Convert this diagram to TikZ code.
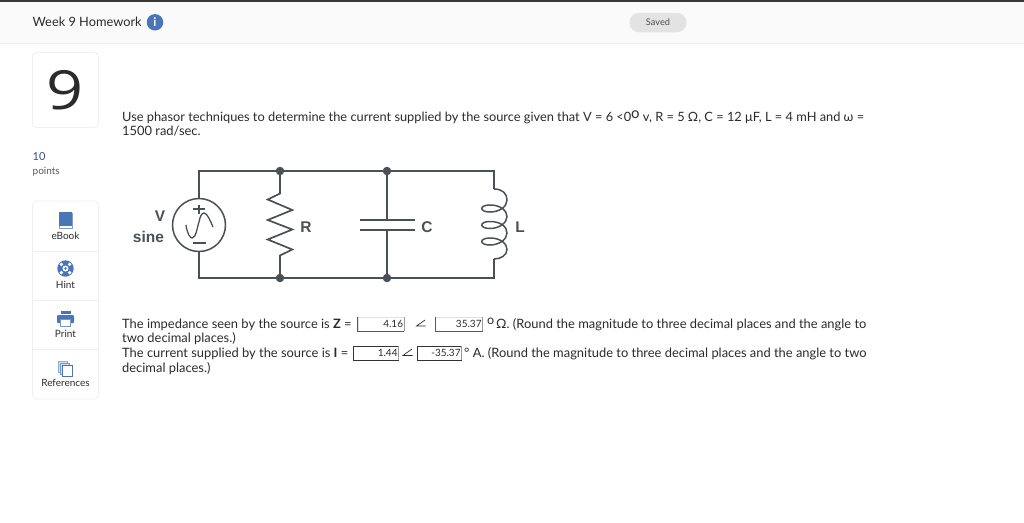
\documentclass[tikz,border=0pt]{standalone}
\usepackage{fontspec}
\setmainfont{Lato}
\newfontfamily\numfont{Open Sans}
\newfontfamily\labfont{Liberation Sans}
\definecolor{ink}{HTML}{2B2B2B}
\definecolor{wire}{HTML}{4A5054}
\definecolor{brand}{HTML}{4A76B8}
\definecolor{edge}{HTML}{EFEFEF}
\tikzset{
  txt/.style={anchor=base west,inner sep=0pt,text=ink,font=\fontsize{12.9}{14}\selectfont},
  side/.style={anchor=base,inner sep=0pt,text=ink,font=\fontsize{10}{11}\selectfont},
  wirepath/.style={draw=wire,line width=1.7pt},
  thin wire/.style={draw=wire,line width=1.2pt},
  junction/.style={circle,fill=wire,inner sep=0pt,minimum size=8.5pt},
  port/.style={inner sep=0pt,minimum size=0pt},
  lab/.style={inner sep=0pt,text=wire,font=\labfont\fontsize{15.5}{17}\selectfont\bfseries},
  ansbox/.style={draw=black!80,line width=.6pt,inner sep=0pt,anchor=north west,font=\fontsize{10}{11}\selectfont,text=ink},
  faintbox/.style={ansbox,draw=black!12},
  boxedge/.style={draw=black!65,line width=.7pt},
  boxright/.style={draw=black!40,line width=.7pt},
  ang/.style={draw=ink,line width=.7pt},
  panel/.style={draw=edge,line width=.8pt,rounded corners=4pt},
}
\begin{document}
\begin{tikzpicture}[x=1pt,y=-1pt]
\useasboundingbox (0,0) rectangle (1024,522);
\fill[white] (0,0) rectangle (1024,522);
% header
\fill[black!2] (0,0) rectangle (1024,43);
\draw[edge,line width=.6pt] (0,43) -- (1024,43);
\fill[black!78] (0,0) rectangle (1024,2.4);
\node[txt,font=\fontsize{12.8}{14}\selectfont] (title) at (32.5,26.5) {Week 9 Homework};
\node[circle,fill=brand,minimum size=16.5pt,inner sep=0pt,text=white,font=\fontsize{12}{12}\selectfont\bfseries] (info) at (155,22.3) {i};
\node[fill=black!11,rounded corners=9.5pt,minimum width=57pt,minimum height=19.5pt,inner sep=0pt,text=black!70,font=\fontsize{9.2}{10}\selectfont] (saved) at (658,22.5) {Saved};
% number card
\draw[panel] (32.5,52.5) rectangle (98.5,127.5);
\node[inner sep=0pt,text=ink,font=\numfont\fontsize{54}{55}\selectfont] (num) at (65.5,90) {\scalebox{1.2}[1]{9}};
\node[txt,text=brand!70!black,font=\fontsize{11}{13}\selectfont] (pts) at (32.5,160.5) {10};
\node[txt,text=black!65,font=\fontsize{10}{11}\selectfont] (ptsl) at (32.5,174.5) {points};
% side panel
\draw[panel] (32.5,201) rectangle (98.5,399);
\draw[edge,line width=.6pt] (33,251) -- (98,251);
\draw[edge,line width=.8pt] (33,300) -- (98,300);
\draw[edge,line width=.8pt] (33,349.5) -- (98,349.5);
\node[side] (ebook) at (65.5,239) {eBook};
\node[side] (hint) at (65.5,288) {Hint};
\node[side] (print) at (65.5,337) {Print};
\node[side] (refs) at (65.5,386.5) {References};
% book icon
\fill[brand] (58.5,212) rectangle (72,225.5);
\draw[brand!70,line width=.8pt] (59,225.5) -- (59,228) -- (72.5,228) -- (72.5,213);
% hint icon
\fill[brand] (65.5,268.5) circle (8.2);
\fill[white] (65.5,268.5) circle (3);
\foreach \a in {45,135,225,315}{\fill[white] (65.5,268.5)++(\a:5.8) circle (1.9);}
\fill[brand] (65.5,268.5) circle (1.4);
% print icon
\fill[brand] (60.5,311) rectangle (70.5,314);
\fill[brand,rounded corners=1pt] (57,315) rectangle (74,323);
\fill[white] (60.5,319.5) rectangle (70.5,326);
\draw[brand!75,line width=.7pt] (60.5,319.5) rectangle (70.5,326.5);
% refs icon
\draw[brand!60,fill=brand!25,line width=.7pt] (58.5,361) rectangle (67,372);
\draw[brand!75,fill=brand!25,line width=.7pt] (60.5,363) rectangle (69,374);
\draw[brand,fill=white,line width=.8pt] (62.5,365) rectangle (72.5,376.5);
% statement
\node[txt,font=\fontsize{12.8}{14}\selectfont] (q1) at (122,121) {Use phasor techniques to determine the current supplied by the source given that V = 6 <0\raisebox{.45ex}{\fontsize{15}{15}\selectfont o} v, R = 5 Ω, C = 12 μF, L = 4 mH and ω =};
\node[txt] (q2) at (122,135) {1500 rad/sec.};
% circuit
\node[circle,draw=wire,line width=1.5pt,minimum size=53pt,inner sep=0pt] (src) at (199,225) {};
\node[port] (tl) at (199,171) {};
\node[port] (bl) at (199,278) {};
\node[junction] (j1) at (280,171) {};
\node[junction] (j2) at (387,171) {};
\node[port] (tr) at (494,171) {};
\node[junction] (j3) at (280,278) {};
\node[junction] (j4) at (387,278) {};
\node[port] (br) at (494,278) {};
\node[port] (r1) at (280,192) {};
\node[port] (r2) at (280,257) {};
\node[port] (c1) at (387,220) {};
\node[port] (c2) at (387,230) {};
\node[port] (l1) at (494,189) {};
\node[port] (l2) at (494,259) {};
\draw[wirepath] (src.north) -- (tl.center) -- (j1) -- (j2) -- (tr.center) -- (l1.center);
\draw[wirepath] (src.south) -- (bl.center) -- (j3) -- (j4) -- (br.center) -- (l2.center);
\draw[wirepath] (j1) -- (r1.center);
\draw[wirepath] (j3) -- (r2.center);
\draw[wirepath] (j2) -- (c1.center);
\draw[wirepath] (j4) -- (c2.center);
\draw[wirepath,line join=miter] (r1.center) -- (280,193.5) -- (267.7,199.5) -- (292.3,210) -- (267.7,220) -- (292.3,229.5) -- (267.7,239.5) -- (292.3,249.5) -- (280,255.5) -- (r2.center);
\draw[wirepath] (360,220) -- (415,220);
\draw[wirepath] (360,230) -- (415,230);
\draw[wirepath,line width=1.5pt] (l1.center)
  .. controls (503,189) and (507,194) .. (507,200)
  .. controls (507,207) and (499,212) .. (490,212)
  .. controls (479,212) and (479,205) .. (490,205)
  .. controls (501,205) and (507,211) .. (507,216.5)
  .. controls (507,223) and (499,228.5) .. (490,228.5)
  .. controls (479,228.5) and (479,221.5) .. (490,221.5)
  .. controls (501,221.5) and (507,227) .. (507,233)
  .. controls (507,239.5) and (499,245) .. (490,245)
  .. controls (479,245) and (479,238) .. (490,238)
  .. controls (501,238) and (507,244) .. (507,249.5)
  .. controls (507,255) and (501,259) .. (l2.center);
% source symbols
\draw[thin wire] (199,204.5) -- (199,214) (193,209) -- (205,209);
\draw[thin wire] (193,243) -- (206,243);
\draw[wirepath,line width=1.3pt] (186,225) .. controls (187,233) and (190,238) .. (192,238) .. controls (196,238) and (197,228) .. (199,222) .. controls (200,216) and (202,213) .. (204,213) .. controls (207,213) and (210,220) .. (213,227);
\node[lab] (vlab) at (160,216.5) {V};
\node[lab] (slab) at (148.5,237) {sine};
\node[lab] (rlab) at (306,226.7) {R};
\node[lab] (clab) at (427,226.7) {C};
\node[lab] (llab) at (520,226.7) {L};
% answers
\node[txt] (a1) at (122,328) {The impedance seen by the source is \textbf{Z} =};
\node[faintbox,minimum width=46pt,minimum height=14pt,align=right,text width=44.5pt] (bz) at (357.5,316.7) {4.16};
\draw[boxright] (bz.north east) -- (bz.south east);
\draw[boxedge] (bz.north west) -- (bz.south west) -- (bz.south east);
\draw[ang] (425,320) -- (416.5,326) -- (425.5,326);
\node[faintbox,minimum width=47pt,minimum height=14pt,align=right,text width=45.5pt] (bt) at (435,316.7) {35.37};
\draw[boxright] (bt.north east) -- (bt.south east);
\draw[boxedge] (bt.north west) -- (bt.south west) -- (bt.south east);
\node[txt,font=\fontsize{12.5}{14}\selectfont] (deg1) at (487,324.5) {o};
\node[txt] (a1b) at (496,328) {Ω. (Round the magnitude to three decimal places and the angle to};
\node[txt] (a2) at (122,342.5) {two decimal places.)};
\node[txt] (a3) at (122,357) {The current supplied by the source is \textbf{I} =};
\node[ansbox,minimum width=45.5pt,minimum height=13.5pt,align=right,text width=44pt] (bi) at (352.5,346) {1.44};
\draw[boxright] (bi.north east) -- (bi.south east);
\draw[ang] (412,349) -- (403,355.5) -- (412.5,355.5);
\node[ansbox,minimum width=44.5pt,minimum height=13.5pt,align=right,text width=43pt] (bp) at (416.5,346) {-35.37};
\draw[boxright] (bp.north east) -- (bp.south east);
\node[txt] (a3b) at (464,357) {° A. (Round the magnitude to three decimal places and the angle to two};
\node[txt] (a4) at (122,372) {decimal places.)};
\end{tikzpicture}
\end{document}
